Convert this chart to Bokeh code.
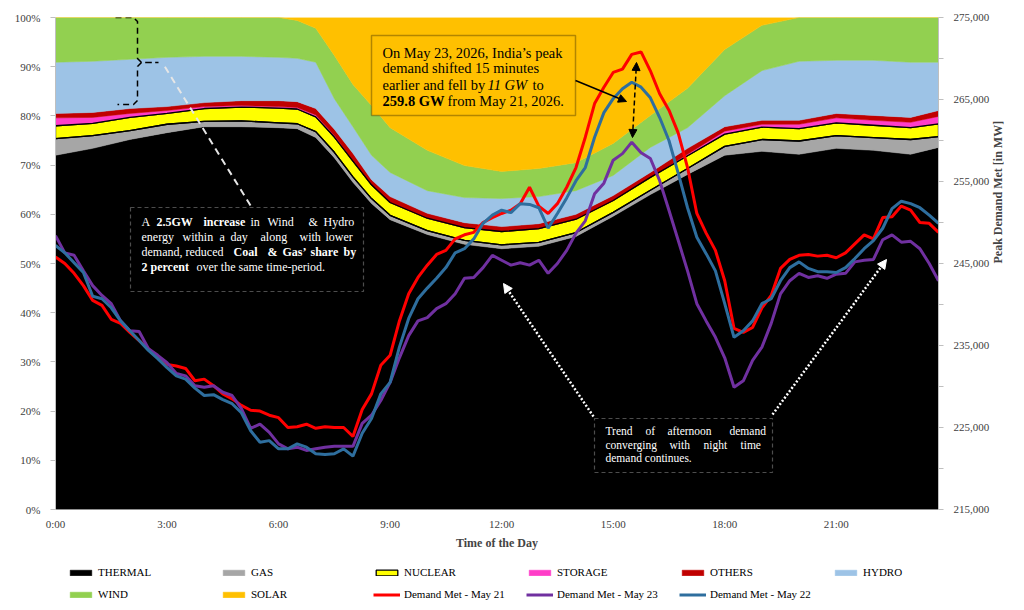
import math
import numpy as np
from bokeh.plotting import figure
from bokeh.layouts import column
from bokeh.models import (Range1d, LinearAxis, FixedTicker, PrintfTickFormatter,
                          NumeralTickFormatter, Legend, LegendItem, Label,
                          BoxAnnotation, Arrow, NormalHead)
from bokeh.embed import file_html
from bokeh.resources import INLINE

SERIF = "Liberation Serif"

# ---------------------------------------------------------------- data
# quarter-hour slots of the day: 0 -> 0:00, 95 -> 23:45
slots = list(range(96))
x_tick_slots = [0, 12, 24, 36, 48, 60, 72, 84]
x_tick_labels = ["0:00", "3:00", "6:00", "9:00", "12:00", "15:00", "18:00", "21:00"]
share_ticks = list(range(0, 101, 10))
mw_ticks = [215000, 225000, 235000, 245000, 255000, 265000, 275000]
mw_minor_ticks = [220000, 230000, 240000, 250000, 260000, 270000]

# generation mix (share of supply, %) hourly, half-hourly through the morning ramp, and 23:45
mix_slots = [0, 4, 8, 12, 16, 20, 24, 26, 28, 30, 32, 34, 36, 40, 44, 48,
             52, 56, 60, 64, 68, 72, 76, 80, 84, 88, 92, 95]
thermal = [72.0, 73.4, 75.2, 76.6, 77.8, 77.8, 77.6, 77.4, 75.6, 71.5, 66.5, 62.2, 58.9,
           55.9, 53.9, 53.0, 53.5, 55.5, 59.6, 64.0, 68.1, 72.0, 72.8, 72.2, 73.4, 73.0,
           72.2, 73.6]
gas = [3.4, 2.6, 1.8, 1.7, 1.1, 1.2, 1.0, 1.0, 1.2, 1.1, 1.1, 1.0, 0.9,
       0.8, 0.8, 0.8, 0.8, 0.8, 0.8, 0.9, 1.2, 1.8, 2.4, 2.7, 2.6, 2.6, 3.0, 2.2]
nuclear = [2.6, 2.5, 2.7, 2.2, 2.6, 2.8, 3.0, 3.0, 3.0, 3.1, 3.2, 2.8, 2.6,
           2.5, 2.6, 2.7, 2.8, 2.7, 2.4, 2.6, 2.6, 2.5, 2.5, 2.5, 2.6, 2.5, 2.4, 2.6]
storage = [1.6, 1.2, 0.8, 0.6, 0.4, 0.3, 0.3, 0.3, 0.4, 0.3, 0.1, 0.0, 0.0,
           0.0, 0.0, 0.0, 0.0, 0.0, 0.0, 0.0, 0.3, 0.6, 0.6, 0.9, 1.0, 1.0, 1.1, 1.5]
others = [0.9, 1.0, 1.0, 0.8, 0.8, 1.0, 1.2, 1.2, 1.3, 1.3, 1.5, 1.0, 1.2,
          1.0, 1.0, 1.0, 1.0, 1.0, 1.0, 1.0, 1.2, 0.9, 0.8, 0.8, 0.9, 1.0, 1.0, 1.2]
hydro = [10.4, 10.4, 10.0, 10.0, 9.4, 9.0, 8.8, 8.8, 9.4, 6.2, 5.4, 5.0, 4.9,
         4.6, 5.1, 5.7, 5.5, 4.8, 4.1, 5.1, 4.2, 6.3, 10.1, 12.0, 10.8, 11.2, 11.2, 9.8]
wind = [9.1, 8.9, 8.5, 8.1, 7.9, 7.9, 8.1, 7.7, 6.9, 8.8, 8.6, 10.1, 9.1,
        8.2, 6.5, 5.5, 5.7, 5.7, 6.5, 6.5, 8.0, 9.4, 9.2, 8.9, 8.7, 8.7, 9.1, 9.1]
solar = [0.0, 0.0, 0.0, 0.0, 0.0, 0.0, 0.0, 0.6, 2.2, 7.7, 13.6, 17.9, 22.4,
         27.0, 30.1, 31.3, 30.7, 29.5, 25.6, 19.9, 14.4, 6.5, 1.6, 0.0, 0.0, 0.0, 0.0, 0.0]

# all-India demand met (MW), quarter-hourly
demand_may21 = [245800, 245000, 243800, 242300, 240500, 239900, 238200, 237700, 236600, 235600,
                234600, 233500, 232700, 232500, 232200, 230700, 230900, 230100, 229100, 228500,
                227700, 227100, 227000, 226500, 226200, 225000, 225100, 225400, 224900, 225100,
                225000, 225000, 223900, 227200, 229100, 232600, 233800, 238000, 241300, 243300,
                244800, 246100, 246600, 248000, 248500, 248800, 250000, 250600, 251100, 251500,
                252300, 254300, 252000, 251100, 252300, 254300, 256700, 260400, 264500, 266500,
                268300, 268700, 270500, 270800, 268500, 265700, 263700, 260900, 256700, 251100,
                248700, 246600, 242900, 237100, 236600, 237200, 239600, 241100, 244400, 245500,
                246000, 246100, 245900, 246000, 245700, 246300, 247400, 248500, 248000, 250600,
                250700, 252000, 251500, 250000, 249900, 248800]
demand_may22 = [247200, 246300, 245100, 243900, 241000, 240700, 239600, 238000, 236800, 235600,
                234400, 233400, 232300, 231300, 230900, 229800, 228900, 229000, 228400, 227900,
                226800, 224600, 223200, 223400, 222400, 222400, 223000, 222600, 221800, 221700,
                221800, 222400, 221500, 224300, 226100, 229100, 230500, 234800, 238300, 240700,
                242000, 243200, 244500, 246300, 246800, 248000, 249900, 250900, 251500, 251200,
                252300, 252200, 251800, 249300, 251100, 253000, 255100, 256700, 260400, 263400,
                265100, 266300, 267100, 266500, 265200, 262800, 260000, 256000, 251800, 248200,
                246200, 244100, 240100, 236000, 236800, 238000, 240100, 240700, 242900, 244500,
                245200, 244400, 244000, 244000, 243900, 244500, 245600, 246800, 247800, 249300,
                251700, 252600, 252300, 251800, 250900, 249900]
demand_may23 = [248400, 246300, 246000, 244100, 242300, 241100, 240100, 238000, 236800, 236700,
                234600, 233800, 232900, 231600, 231300, 230100, 229900, 230100, 229300, 228900,
                227300, 224900, 225400, 224400, 223000, 222400, 222600, 222200, 222400, 222600,
                222700, 222700, 222700, 225500, 226500, 228300, 230500, 233500, 236200, 238000,
                238400, 239500, 240100, 241300, 243200, 243300, 244500, 246000, 245400, 244800,
                245100, 244800, 245400, 243800, 245000, 246600, 248700, 250200, 253500, 254800,
                257600, 258400, 259800, 258500, 257800, 255100, 251500, 247800, 244100, 240100,
                238000, 236000, 233500, 229900, 230700, 233200, 234800, 237700, 241300, 242900,
                243800, 243300, 243500, 243200, 243700, 243800, 245200, 245400, 245500, 247900,
                248500, 247600, 247700, 246800, 245000, 242900]

# ---------------------------------------------------------------- chart
CHART_H = 552
p = figure(width=1024, height=CHART_H, output_backend="svg", toolbar_location=None,
           x_range=Range1d(0, 95), y_range=Range1d(0, 100),
           min_border_left=55, min_border_right=86, min_border_top=17,
           min_border_bottom=CHART_H - 509)
p.extra_y_ranges = {"mw": Range1d(215000, 275000)}
p.xgrid.visible = False
p.ygrid.visible = False
p.outline_line_color = None
p.background_fill_color = "white"
p.border_fill_color = "white"

# frame geometry on the page, used to place the call-outs
FL, FR, FT, FB = 55, 938, 17, 509


def dx(px):
    return (px - FL) * 95.0 / (FR - FL)


def dy(py):
    return (FB - py) * 100.0 / (FB - FT)


# stacked generation mix
bands = [
    ("THERMAL", thermal, "#000000", None),
    ("GAS", gas, "#A6A6A6", None),
    ("NUCLEAR", nuclear, "#FFFF00", "#000000"),
    ("STORAGE", storage, "#FF3DC8", None),
    ("OTHERS", others, "#C00000", None),
    ("HYDRO", hydro, "#9DC3E6", None),
    ("WIND", wind, "#92D050", None),
    ("SOLAR", solar, "#FFC000", None),
]
band_polys = []
base = np.zeros(len(mix_slots))
nuclear_edges = None
for name, share, fill, edge in bands:
    top = base + np.array(share, dtype=float)
    xs = list(mix_slots) + list(mix_slots[::-1])
    ys = list(top) + list(base[::-1])
    band_polys.append((name, xs, ys, fill, edge))
    p.patch(xs, ys, fill_color=fill, line_color=edge if edge else fill,
            line_width=1.3 if edge else 0.5)
    if name == "NUCLEAR":
        nuclear_edges = (base.copy(), top.copy())
    base = top

# keep the nuclear outline visible above the neighbouring bands
p.line(mix_slots, list(nuclear_edges[1]), line_color="black", line_width=1.3)
p.line(mix_slots, list(nuclear_edges[0]), line_color="black", line_width=1.3)

# demand curves on the right-hand MW scale
demand_series = [
    ("Demand Met - May 21", demand_may21, "#FF0000"),
    ("Demand Met - May 23", demand_may23, "#7030A0"),
    ("Demand Met - May 22", demand_may22, "#2E6E9E"),
]
for name, values, color in demand_series:
    p.line(slots, values, y_range_name="mw", line_color=color, line_width=3)

# ---------------------------------------------------------------- axes
tick_color = "#404040"
xa = p.xaxis[0]
xa.ticker = FixedTicker(ticks=x_tick_slots)
xa.major_label_overrides = {s: lab for s, lab in zip(x_tick_slots, x_tick_labels)}
xa.axis_line_color = None
xa.major_tick_line_color = None
xa.minor_tick_line_color = None
xa.major_tick_out = 0
xa.major_tick_in = 0
xa.minor_tick_out = 0
xa.major_label_standoff = 8
xa.major_label_text_font = SERIF
xa.major_label_text_font_size = "11px"
xa.major_label_text_color = tick_color
xa.axis_label = "Time of the Day"
xa.axis_label_text_font = SERIF
xa.axis_label_text_font_style = "bold"
xa.axis_label_text_font_size = "12px"
xa.axis_label_standoff = 3

ya = p.yaxis[0]
ya.ticker = FixedTicker(ticks=share_ticks)
ya.formatter = PrintfTickFormatter(format="%d%%")
ya.axis_line_color = "#BFBFBF"
ya.major_tick_line_color = "#BFBFBF"
ya.major_tick_out = 5
ya.major_tick_in = 0
ya.minor_tick_line_color = None
ya.major_label_standoff = 10
ya.major_label_text_font = SERIF
ya.major_label_text_font_size = "11px"
ya.major_label_text_color = tick_color

mw_axis = LinearAxis(y_range_name="mw",
                     ticker=FixedTicker(ticks=mw_ticks, minor_ticks=mw_minor_ticks),
                     formatter=NumeralTickFormatter(format="0,0"))
mw_axis.axis_line_color = "#BFBFBF"
mw_axis.major_tick_line_color = "#BFBFBF"
mw_axis.minor_tick_line_color = "#BFBFBF"
mw_axis.major_tick_out = 5
mw_axis.major_tick_in = 0
mw_axis.minor_tick_out = 5
mw_axis.minor_tick_in = 0
mw_axis.major_label_standoff = 10
mw_axis.major_label_text_font = SERIF
mw_axis.major_label_text_font_size = "11px"
mw_axis.major_label_text_color = tick_color
mw_axis.axis_label = "Peak Demand Met [in MW]"
mw_axis.axis_label_text_font = SERIF
mw_axis.axis_label_text_font_style = "bold"
mw_axis.axis_label_text_font_size = "12px"
mw_axis.axis_label_standoff = 6
try:
    # read the right-hand title bottom-to-top
    mw_axis.axis_label_orientation = math.pi / 2
except AttributeError:
    pass
p.add_layout(mw_axis, "right")

# ---------------------------------------------------------------- call-outs
def words(items, color, size):
    for text, px, py, style in items:
        p.add_layout(Label(x=dx(px), y=dy(py), text=text, text_align="left",
                           text_baseline="middle", text_font=SERIF,
                           text_font_size=size, text_font_style=style,
                           text_color=color))


# wind & hydro note
p.add_layout(BoxAnnotation(left=dx(130), right=dx(363), top=dy(207), bottom=dy(291),
                           fill_alpha=0, line_color="white", line_width=1.2,
                           line_dash="4 3"))
words([
    ("A", 141, 221, "normal"), ("2.5GW", 156, 221, "bold"), ("increase", 203, 221, "bold"),
    ("in", 250, 221, "normal"), ("Wind", 267, 221, "normal"), ("&", 308, 221, "normal"),
    ("Hydro", 323, 221, "normal"),
    ("energy", 141, 236, "normal"), ("within", 182, 236, "normal"), ("a", 219, 236, "normal"),
    ("day", 230, 236, "normal"), ("along", 260, 236, "normal"), ("with", 299, 236, "normal"),
    ("lower", 325, 236, "normal"),
    ("demand,", 141, 251, "normal"), ("reduced", 185, 251, "normal"), ("Coal", 233, 251, "bold"),
    ("&", 267, 251, "bold"), ("Gas\u2019", 282, 251, "bold"), ("share", 310, 251, "bold"),
    ("by", 343, 251, "bold"),
    ("2 percent", 141, 266, "bold"), ("over the same time-period.", 196, 266, "normal"),
], "white", "12px")

# brace over wind & hydro with its pointer
brace_px = [(115, 17), (133, 17), (137, 21), (137, 58), (141, 62), (158, 62),
            (141, 62), (137, 66), (137, 100), (133, 104), (117, 104)]
p.line([dx(a) for a, b in brace_px], [dy(b) for a, b in brace_px],
       line_color="black", line_width=1.5, line_dash="6 4")
p.add_layout(Arrow(x_start=dx(250), y_start=dy(205), x_end=dx(163), y_end=dy(64),
                   end=None, line_color="#E6E6E6", line_width=2, line_dash="7 5"))

# peak-demand note
p.add_layout(BoxAnnotation(left=dx(371), right=dx(575), top=dy(35), bottom=dy(115),
                           fill_color="#FFC000", fill_alpha=1, line_color="black",
                           line_width=1.5))
words([
    ("On May 23, 2026, India\u2019s peak", 382, 52, "normal"),
    ("demand shifted 15 minutes", 382, 67, "normal"),
    ("earlier and fell by", 382, 84, "normal"), ("11 GW", 487, 84, "italic"),
    ("to", 532, 84, "normal"),
    ("259.8 GW", 382, 100, "bold"), ("from May 21, 2026.", 447, 100, "normal"),
], "black", "14.5px")
p.add_layout(Arrow(x_start=dx(575), y_start=dy(80), x_end=dx(626), y_end=dy(101),
                   end=NormalHead(size=8, fill_color="black", line_color="black"),
                   line_color="black", line_width=1.5))
p.add_layout(Arrow(x_start=dx(632), y_start=dy(137), x_end=dx(636), y_end=dy(62),
                   start=NormalHead(size=8, fill_color="black", line_color="black"),
                   end=NormalHead(size=8, fill_color="black", line_color="black"),
                   line_color="black", line_width=1.5, line_dash="5 3"))

# afternoon trend note
p.add_layout(BoxAnnotation(left=dx(594), right=dx(772), top=dy(418), bottom=dy(472),
                           fill_alpha=0, line_color="white", line_width=1.2,
                           line_dash="4 3"))
words([
    ("Trend", 605, 430, "normal"), ("of", 645, 430, "normal"),
    ("afternoon", 667, 430, "normal"), ("demand", 729, 430, "normal"),
    ("converging", 605, 444, "normal"), ("with", 669, 444, "normal"),
    ("night", 703, 444, "normal"), ("time", 740, 444, "normal"),
    ("demand continues.", 605, 457, "normal"),
], "white", "11.5px")
p.add_layout(Arrow(x_start=dx(593), y_start=dy(416), x_end=dx(503), y_end=dy(283),
                   end=NormalHead(size=9, fill_color="white", line_color="white"),
                   line_color="white", line_width=2.5, line_dash="2 2"))
p.add_layout(Arrow(x_start=dx(772), y_start=dy(414), x_end=dx(886), y_end=dy(259),
                   end=NormalHead(size=9, fill_color="white", line_color="white"),
                   line_color="white", line_width=2.5, line_dash="2 2"))

# ---------------------------------------------------------------- legend strip
# a second plot under the chart holds the key; its view is parked off the data
LEG_H = 610 - CHART_H
lg = figure(width=1024, height=LEG_H, output_backend="svg", toolbar_location=None,
            x_axis_type=None, y_axis_type=None,
            x_range=Range1d(-3, -2), y_range=Range1d(-3, -2), min_border=0)
lg.xgrid.visible = False
lg.ygrid.visible = False
lg.outline_line_color = None
lg.background_fill_color = "white"
lg.border_fill_color = "white"

proxies = {}
for name, xs, ys, fill, edge in band_polys:
    proxies[name] = lg.patch(xs, ys, fill_color=fill, line_color=edge if edge else fill,
                             line_width=1.3 if edge else 0.5)
for name, values, color in demand_series:
    proxies[name] = lg.line(slots, values, line_color=color, line_width=3)

legend_order = ["THERMAL", "GAS", "NUCLEAR", "STORAGE", "OTHERS", "HYDRO",
                "WIND", "SOLAR", "Demand Met - May 21", "Demand Met - May 23",
                "Demand Met - May 22"]
legend = Legend(items=[LegendItem(label=n, renderers=[proxies[n]]) for n in legend_order],
                location=(12, 8), orientation="horizontal", ncols=6,
                glyph_width=27, glyph_height=7, label_standoff=4,
                label_width=116, label_height=16, spacing=6, padding=0, margin=0,
                border_line_color=None, background_fill_alpha=0,
                label_text_font=SERIF, label_text_font_size="11px",
                label_text_color="black")
lg.add_layout(legend, "center")

page = column(p, lg, spacing=0)
open("out.html", "w").write(file_html(page, INLINE))
